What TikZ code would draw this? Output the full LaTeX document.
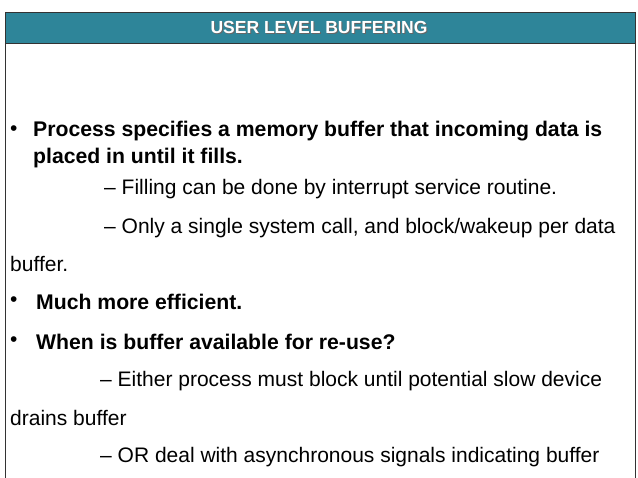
\documentclass[tikz,border=0pt]{standalone}
\usepackage{fontspec}
\setmainfont{Liberation Sans}
\definecolor{hdr}{HTML}{2E8599}
\begin{document}
\begin{tikzpicture}[x=1pt,y=-1pt,
  txt/.style={anchor=west,inner sep=0pt,font=\fontsize{21}{24}\selectfont},
  btxt/.style={txt,font=\fontsize{21.2}{24}\selectfont\bfseries}]
\useasboundingbox (0,0) rectangle (638,478);
\fill[white] (0,0) rectangle (638,478);
\draw[black!80,line width=0.8pt] (5,478) -- (5,12) -- (635,12) -- (635,478);
\fill[hdr] (5,12) rectangle (635,43);
\draw[black!80,line width=0.8pt] (5,12) rectangle (635,43);
\node[font=\fontsize{17.5}{20}\selectfont\bfseries,text=black!60] at (320,28.5) {USER LEVEL BUFFERING};
\node[font=\fontsize{17.5}{20}\selectfont\bfseries,text=white] (title) at (319,27.5) {USER LEVEL BUFFERING};
\node[txt] (b1) at (10,131) {•};
\node[btxt] (l1) at (33,131) {Process specifies a memory buffer that incoming data is};
\node[btxt] (l2) at (33,158) {placed in until it fills.};
\node[txt] (l3) at (104,189) {– Filling can be done by interrupt service routine.};
\node[txt] (l4) at (104,228) {– Only a single system call, and block/wakeup per data};
\node[txt] (l5) at (10,264) {buffer.};
\node[txt] (b2) at (10,302) {•};
\node[btxt] (l6) at (36,302) {Much more efficient.};
\node[txt] (b3) at (10,342) {•};
\node[btxt] (l7) at (36,342) {When is buffer available for re-use?};
\node[txt] (l8) at (100,381) {– Either process must block until potential slow device};
\node[txt] (l9) at (10,418) {drains buffer};
\node[txt] (l10) at (100,457) {– OR deal with asynchronous signals indicating buffer};
\end{tikzpicture}
\end{document}
